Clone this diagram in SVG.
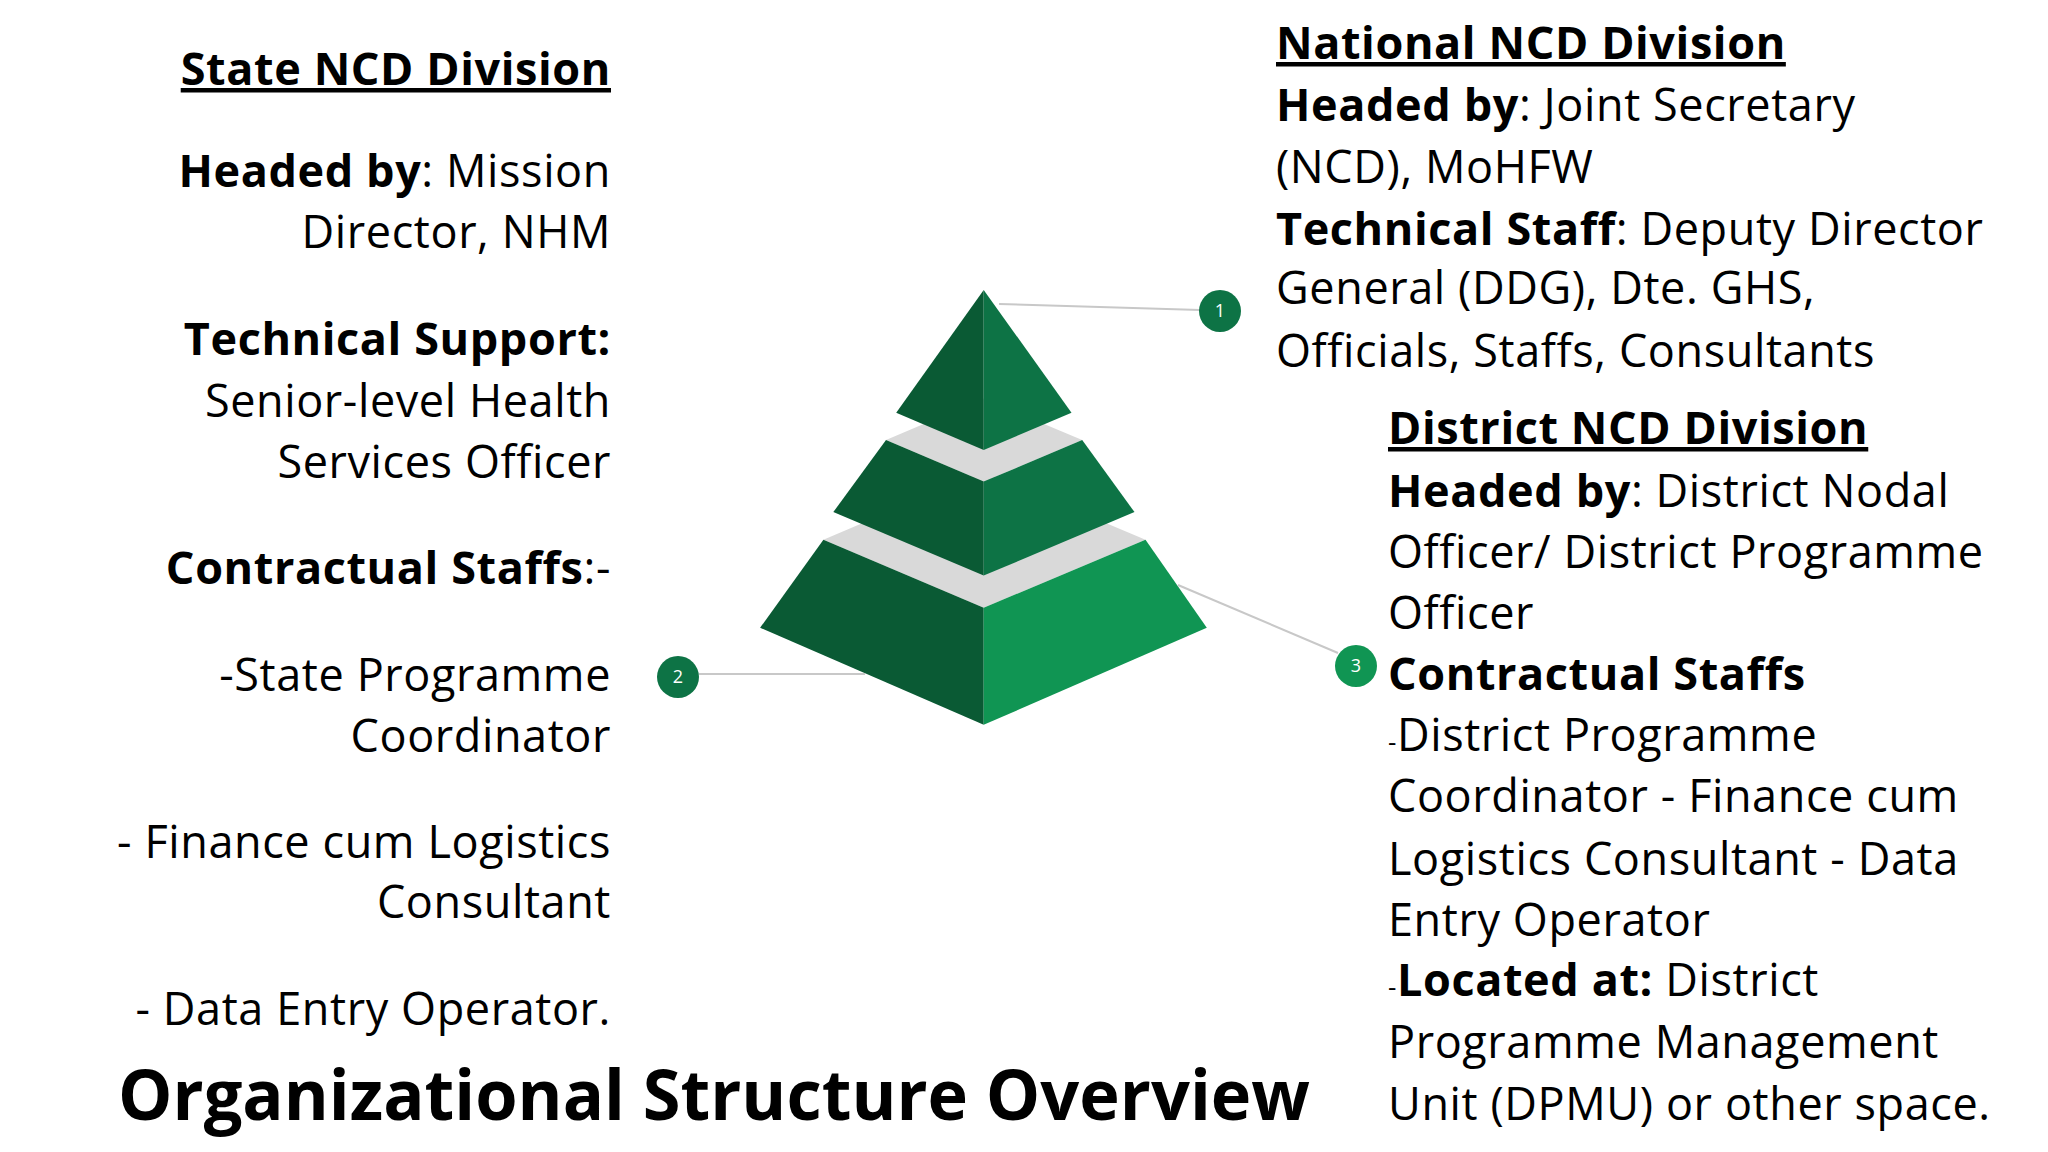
<svg xmlns="http://www.w3.org/2000/svg" width="2048" height="1152" viewBox="0 0 2048 1152">
<style>
text{font-family:"Open Sans","Liberation Sans",sans-serif;font-size:45px;letter-spacing:0.6px;fill:#000}
.b{font-weight:bold}
.h{font-weight:bold;text-decoration:underline}
.l{text-anchor:end}
.num{font-size:18px;letter-spacing:0;fill:#fff;text-anchor:middle}
.c{stroke:#c8c8c8;stroke-width:2;fill:none}
.dash{font-size:26px}
.title{font-size:70px;font-weight:bold;letter-spacing:0}
</style>
<rect width="2048" height="1152" fill="#fff"/>
<g id="pyramid">
<polygon points="886,440.1 983.7,398.6 1082.2,440.1 983.7,481.6" fill="#d9d9d9"/>
<polygon points="823.4,539.7 983.7,471.6 1145.5,539.7 983.7,607.8" fill="#d9d9d9"/>
<polygon points="823.4,539.7 983.7,607.8 983.7,724.8 760.1,627.8" fill="#0a5a34"/>
<polygon points="983.7,607.8 1145.5,539.7 1206.8,627.8 983.7,724.8" fill="#109553"/>
<polygon points="886,440.1 983.7,481.6 983.7,575.6 833.3,512.1" fill="#0a5a34"/>
<polygon points="983.7,481.6 1082.2,440.1 1134.5,512.1 983.7,575.6" fill="#0d7345"/>
<polygon points="983.7,289.9 983.7,450 896.2,412.8" fill="#0a5a34"/>
<polygon points="983.7,289.9 1071.5,412.8 983.7,450" fill="#0d7345"/>
</g>
<g id="connectors">
<line class="c" x1="999" y1="304" x2="1200" y2="310"/>
<line class="c" x1="699" y1="674" x2="865" y2="674"/>
<line class="c" x1="1178" y1="585" x2="1338" y2="653"/>
</g>
<g id="n1"><circle cx="1220" cy="311" r="21" fill="#0d7345"/><text class="num" x="1220" y="317">1</text></g>
<g id="n2"><circle cx="678" cy="677" r="21" fill="#0d7345"/><text class="num" x="678" y="683">2</text></g>
<g id="n3"><circle cx="1356" cy="666" r="21" fill="#109553"/><text class="num" x="1356" y="672">3</text></g>
<g id="state">
<text class="h l" x="611" y="85">State NCD Division</text>
<text class="l" x="611" y="187"><tspan class="b">Headed by</tspan>: Mission</text>
<text class="l" x="611" y="248">Director, NHM</text>
<text class="b l" x="611" y="355">Technical Support:</text>
<text class="l" x="611" y="417">Senior-level Health</text>
<text class="l" x="611" y="478">Services Officer</text>
<text class="l" x="611" y="584"><tspan class="b">Contractual Staffs</tspan>:-</text>
<text class="l" x="611" y="691">-State Programme</text>
<text class="l" x="611" y="752">Coordinator</text>
<text class="l" x="611" y="858">- Finance cum Logistics</text>
<text class="l" x="611" y="918">Consultant</text>
<text class="l" x="611" y="1025">- Data Entry Operator.</text>
</g>
<g id="national">
<text class="h" x="1276" y="59">National NCD Division</text>
<text x="1276" y="121"><tspan class="b">Headed by</tspan>: Joint Secretary</text>
<text x="1276" y="183">(NCD), MoHFW</text>
<text x="1276" y="245"><tspan class="b">Technical Staff</tspan>: Deputy Director</text>
<text x="1276" y="304">General (DDG), Dte. GHS,</text>
<text x="1276" y="367">Officials, Staffs, Consultants</text>
</g>
<g id="district">
<text class="h" x="1388" y="444">District NCD Division</text>
<text x="1388" y="507"><tspan class="b">Headed by</tspan>: District Nodal</text>
<text x="1388" y="568">Officer/ District Programme</text>
<text x="1388" y="629">Officer</text>
<text class="b" x="1388" y="690">Contractual Staffs</text>
<text x="1388" y="751"><tspan class="dash">-</tspan>District Programme</text>
<text x="1388" y="812">Coordinator - Finance cum</text>
<text x="1388" y="875">Logistics Consultant - Data</text>
<text x="1388" y="936">Entry Operator</text>
<text x="1388" y="996"><tspan class="dash">-</tspan><tspan class="b">Located at:</tspan> District</text>
<text x="1388" y="1058">Programme Management</text>
<text x="1388" y="1120">Unit (DPMU) or other space.</text>
</g>
<text class="title" x="118" y="1120" textLength="1192" lengthAdjust="spacingAndGlyphs">Organizational Structure Overview</text>
</svg>
